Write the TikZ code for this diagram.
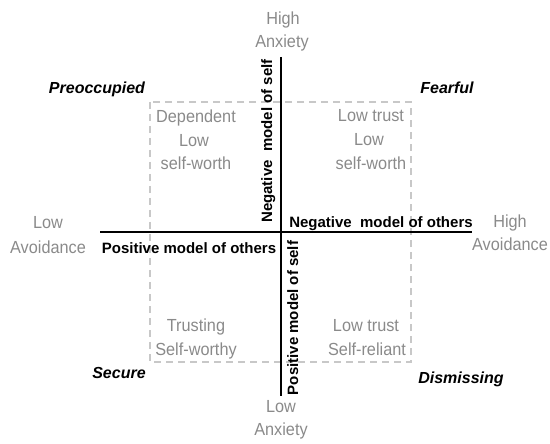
\documentclass[tikz,border=0pt]{standalone}
\usepackage{fontspec}
\setmainfont{Liberation Sans}
\newfontfamily\narrowgray{Liberation Sans}[FakeStretch=0.93]
\definecolor{txtgray}{RGB}{138,138,138}
\definecolor{boxgray}{RGB}{200,200,200}
\tikzset{
  graytxt/.style={anchor=base, inner sep=0pt, text=txtgray, font=\narrowgray\fontsize{17.5}{20}\selectfont},
  axislbl/.style={anchor=base, inner sep=0pt, text=black, font=\bfseries\fontsize{15}{18}\selectfont},
  stylelbl/.style={anchor=base, inner sep=0pt, text=black, font=\bfseries\itshape\fontsize{16}{19}\selectfont},
  axisline/.style={draw=black, line width=1.2pt},
  quadbox/.style={draw=boxgray, line width=2pt, dash pattern=on 7pt off 5pt}
}
\begin{document}
\begin{tikzpicture}[x=1pt,y=-1pt]
\useasboundingbox (0,0) rectangle (550,444);
% dashed box
\draw[quadbox] (150,102) rectangle (411,362);
% axes
\coordinate (vt) at (281,57);
\coordinate (vb) at (281,396);
\coordinate (hl) at (100,232);
\coordinate (hr) at (472,232);
\draw[axisline] (vt) -- (vb);
\draw[axisline] (hl) -- (hr);
% axis ends
\node[graytxt] (ha1) at (283,24.5) {High};
\node[graytxt] (ha2) at (282,47.5) {Anxiety};
\node[graytxt] (la1) at (281,412.5) {Low};
\node[graytxt] (la2) at (281,435.5) {Anxiety};
\node[graytxt] (lv1) at (48,229) {Low};
\node[graytxt] (lv2) at (48,253) {Avoidance};
\node[graytxt] (hv1) at (510,227) {High};
\node[graytxt] (hv2) at (510,250.5) {Avoidance};
% quadrant descriptions
\node[graytxt] (q1a) at (196,123) {Dependent};
\node[graytxt] (q1b) at (194,146.5) {Low};
\node[graytxt] (q1c) at (196,170) {self-worth};
\node[graytxt] (q2a) at (371,122) {Low trust};
\node[graytxt] (q2b) at (369,146) {Low};
\node[graytxt] (q2c) at (371,170) {self-worth};
\node[graytxt] (q3a) at (196,331.5) {Trusting};
\node[graytxt] (q3b) at (196,355) {Self-worthy};
\node[graytxt] (q4a) at (366,331.5) {Low trust};
\node[graytxt] (q4b) at (367,355) {Self-reliant};
% attachment styles
\node[stylelbl] (pre) at (97,93.5) {Preoccupied};
\node[stylelbl] (fea) at (447,93.5) {Fearful};
\node[stylelbl] (sec) at (119,378) {Secure};
\node[stylelbl] (dis) at (461,383) {Dismissing};
% axis labels
\node[axislbl] (nmo) at (381,227.5) {Negative\ \ model of others};
\node[axislbl] (pmo) at (189,253) {Positive model of others};
\node[axislbl, rotate=90] (nms) at (272,141) {Negative\ \ model of self};
\node[axislbl, rotate=90] (pms) at (298,318) {Positive model of self};
\end{tikzpicture}
\end{document}
